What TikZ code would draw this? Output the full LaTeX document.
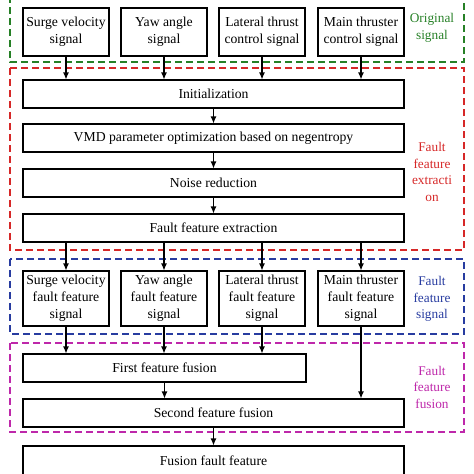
\documentclass[tikz,border=0pt]{standalone}
\usepackage{fontspec}
\setmainfont{Liberation Serif}
\usepackage{xcolor}
\usetikzlibrary{positioning,arrows.meta}
\definecolor{grpgreen}{RGB}{38,128,38}
\definecolor{grpred}{RGB}{214,40,40}
\definecolor{grpblue}{RGB}{40,60,160}
\definecolor{grpmag}{RGB}{190,40,170}
\tikzset{
  blk/.style={draw,line width=1.1pt,fill=white,inner sep=1pt,align=center,
    font=\fontsize{13.7}{17}\selectfont},
  grp/.style={line width=1.3pt,dash pattern=on 7pt off 4pt},
  grplabel/.style={align=center,font=\fontsize{13.3}{16.5}\selectfont},
  flow/.style={line width=1.1pt,-{Latex[length=7pt,width=6pt]}},
}
\begin{document}
\begin{tikzpicture}[x=1pt,y=-1pt]
        % Frame
        \useasboundingbox (0,0) rectangle (474,474);
        % Groups
        \draw[grp,grpgreen] (10,-4) rectangle (464,62);
        \draw[grp,grpred] (10,68) rectangle (464,250);
        \draw[grp,grpblue] (10,259) rectangle (464,334);
        \draw[grp,grpmag] (10,343) rectangle (464,432);
        \node[grplabel,text=grpgreen] (lorig) at (432,28) {Original\\signal};
        \node[grplabel,text=grpred] (lext) at (432,172) {Fault\\feature\\extracti\\on};
        \node[grplabel,text=grpblue] (lsig) at (432,299) {Fault\\feature\\signal};
        \node[grplabel,text=grpmag] (lfus) at (432,387) {Fault\\feature\\fusion};
        % Input signals
        \node[blk,minimum width=86pt,minimum height=48pt] (sv) at (66,32) {Surge velocity\\signal};
        \node[blk,minimum width=86pt,minimum height=48pt] (ya) at (164,32) {Yaw angle\\signal};
        \node[blk,minimum width=86pt,minimum height=48pt] (lt) at (262,32) {Lateral thrust\\control signal};
        \node[blk,minimum width=86pt,minimum height=48pt] (mt) at (361,32) {Main thruster\\control signal};
        % Extraction steps
        \node[blk,minimum width=381pt,minimum height=28pt] (init) at (213.5,94) {Initialization};
        \node[blk,minimum width=381pt,minimum height=28pt] (vmd) at (213.5,138) {VMD parameter optimization based on negentropy};
        \node[blk,minimum width=381pt,minimum height=28pt] (noise) at (213.5,183) {Noise reduction};
        \node[blk,minimum width=381pt,minimum height=28pt] (ffe) at (213.5,228) {Fault feature extraction};
        % Feature signals
        \node[blk,minimum width=86pt,minimum height=55pt] (svf) at (66,298.5) {Surge velocity\\fault feature\\signal};
        \node[blk,minimum width=86pt,minimum height=55pt] (yaf) at (164,298.5) {Yaw angle\\fault feature\\signal};
        \node[blk,minimum width=86pt,minimum height=55pt] (ltf) at (262,298.5) {Lateral thrust\\fault feature\\signal};
        \node[blk,minimum width=86pt,minimum height=55pt] (mtf) at (361,298.5) {Main thruster\\fault feature\\signal};
        % Fusion
        \node[blk,minimum width=283pt,minimum height=28pt] (ffus) at (164.5,368) {First feature fusion};
        \node[blk,minimum width=381pt,minimum height=28pt] (sfus) at (213.5,413) {Second feature fusion};
        \node[blk,minimum width=381pt,minimum height=30pt] (fuse) at (213.5,461) {Fusion fault feature};
        % Arrows
        \foreach \n in {sv,ya,lt,mt}
            \draw[flow] (\n.south) -- (\n.south |- init.north);
        \draw[flow] (init) -- (vmd);
        \draw[flow] (vmd) -- (noise);
        \draw[flow] (noise) -- (ffe);
        \foreach \n in {svf,yaf,ltf,mtf}
            \draw[flow] (\n.north |- ffe.south) -- (\n.north);
        \foreach \n in {svf,yaf,ltf}
            \draw[flow] (\n.south) -- (\n.south |- ffus.north);
        \draw[flow] (mtf.south) -- (mtf.south |- sfus.north);
        \draw[flow] (ffus) -- (ffus |- sfus.north);
        \draw[flow] (sfus) -- (fuse);
       \end{tikzpicture}
\end{document}
